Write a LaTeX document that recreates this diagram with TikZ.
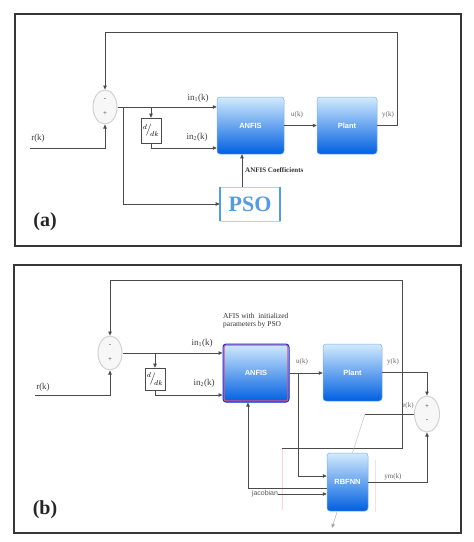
\documentclass[tikz,border=0pt]{standalone}
\usepackage{fontspec}
\setmainfont{Liberation Serif}
\setsansfont{Liberation Sans}
\usetikzlibrary{arrows.meta,shapes.geometric}
\definecolor{boxtop}{RGB}{210,235,253}
\definecolor{boxmid}{RGB}{90,172,242}
\definecolor{boxbot}{RGB}{0,95,225}
\definecolor{frm}{RGB}{55,55,55}
\definecolor{ln}{RGB}{75,75,75}
\definecolor{psoblue}{RGB}{85,155,225}
\definecolor{lbl}{RGB}{60,60,60}
\definecolor{pinkred}{RGB}{230,80,120}
\begin{document}
\begin{tikzpicture}[x=1pt,y=-1pt,
  >={Triangle[length=4pt,width=3.5pt]},
  wire/.style={draw=ln, line width=0.7pt},
  frame/.style={draw=frm, line width=1.8pt},
  blk/.style={rounded corners=3pt, top color=boxtop, middle color=boxmid, bottom color=boxbot,
    draw=boxbot!50, line width=0.5pt, text=white, font=\sffamily\bfseries\fontsize{7.5}{8}\selectfont, inner sep=0pt},
  sumnode/.style={ellipse, fill=gray!6, draw=gray!35, line width=1pt, inner sep=0pt,
    minimum width=24pt, minimum height=34pt},
  sgn/.style={font=\fontsize{7}{7}\selectfont, text=lbl, inner sep=0pt},
  lab/.style={font=\fontsize{9}{9}\selectfont, text=lbl, inner sep=0pt},
  slab/.style={font=\fontsize{7}{8}\selectfont, text=lbl!80, inner sep=0pt},
  ddbox/.style={draw=ln, line width=0.6pt, fill=white, minimum width=20pt, inner sep=0pt},
  panel/.style={font=\bfseries\fontsize{20}{22}\selectfont, text=black!85, inner sep=0pt}
]
\useasboundingbox (0,0) rectangle (474,542);
\fill[white] (0,0) rectangle (474,542);

% ---------------- panel (a) ----------------
\draw[frame] (15,14) rectangle (461,246);
\node[sumnode] (sum1) at (105,107) {};
\node[sgn] at (105,100) {-};
\node[sgn] at (105,114) {+};
\node[ddbox, minimum height=25pt] (dd1) at (151,130.5) {\fontsize{10}{10}\selectfont$^{d}\!\big/_{\!dk}$};
\node[blk, minimum width=67pt, minimum height=57pt] (anfis1) at (250.5,125.5) {ANFIS};
\node[blk, minimum width=60pt, minimum height=57pt] (plant1) at (347,125.5) {Plant};
\node[draw=psoblue!45, line width=0.6pt, fill=white, minimum width=60pt, minimum height=34pt,
  inner sep=0pt, font=\bfseries\fontsize{22}{22}\selectfont, text=psoblue] (pso) at (250,204) {PSO};
\draw[psoblue, line width=1.6pt] ([xshift=0.5pt]pso.north west) -- ([xshift=0.5pt]pso.south west);
\draw[psoblue, line width=1.6pt] ([xshift=-0.5pt]pso.north east) -- ([xshift=-0.5pt]pso.south east);

\coordinate (r1) at (30,148);
\coordinate (br1) at (123,107);
\draw[wire,->] (plant1.east) -| (397,32) -| (sum1.north);
\draw[wire,->] (r1) -| (sum1.south);
\draw[wire,->] (sum1.east) -- (anfis1.west |- sum1.east);
\draw[wire,->] (dd1.north |- sum1.east) -- (dd1.north);
\draw[wire,->] (dd1.south) |- (anfis1.west |- r1);
\draw[wire,->] (br1) |- (pso.west);
\draw[wire,->] (anfis1.east) -- (plant1.west);
\draw[wire,->] ([xshift=-8pt]pso.north) -- ([xshift=-8pt]pso.north |- anfis1.south);

\node[lab] at (38,138) {r(k)};
\node[lab] at (198,98) {in\textsubscript{1}(k)};
\node[lab] at (197,137) {in\textsubscript{2}(k)};
\node[slab] at (297,115) {u(k)};
\node[slab] at (388,115) {y(k)};
\node[font=\bfseries\fontsize{7}{8}\selectfont, text=black!80, anchor=west, inner sep=0pt] at (245,170) {ANFIS Coefficients};
\node[panel] at (45,222) {(a)};

% ---------------- panel (b) ----------------
\draw[frame] (14,265) rectangle (461,533);
\draw[pinkred!25, line width=0.4pt] (282,448) -- (282,510);
\draw[pinkred!20, line width=0.4pt] (375,460) -- (375,512);
\node[sumnode] (sum2) at (110,353) {};
\node[sgn] at (110,346) {-};
\node[sgn] at (110,360) {+};
\node[ddbox, minimum height=22pt] (dd2) at (155,379) {\fontsize{10}{10}\selectfont$^{d}\!\big/_{\!dk}$};
\node[blk, draw=blue!55!boxbot, line width=1pt, minimum width=66pt, minimum height=58pt] (anfis2) at (256,373) {ANFIS};
\draw[pinkred, line width=1pt, rounded corners=2pt] ([shift={(1.6,1.6)}]anfis2.north west) rectangle ([shift={(-1.6,-1.6)}]anfis2.south east);
\node[blk, minimum width=59pt, minimum height=57pt] (plant2) at (352.5,372.5) {Plant};
\node[blk, minimum width=41pt, minimum height=58pt] (rbf) at (347.5,482) {RBFNN};
\node[sumnode, minimum width=25pt, minimum height=36pt] (sum3) at (427,414) {};
\node[sgn] at (427,407) {+};
\node[sgn] at (427,421) {-};

\coordinate (r2) at (35,395);
\coordinate (fb2) at (282,448);
\coordinate (ub) at (298,373);
\draw[wire,->] (fb2) -| (402,280) -| (sum2.north);
\draw[wire,->] (r2) -| (sum2.south);
\draw[wire,->] (sum2.east) -- (anfis2.west |- sum2.east);
\draw[wire,->] (dd2.north |- sum2.east) -- (dd2.north);
\draw[wire,->] (dd2.south) |- (anfis2.west |- r2);
\draw[wire,->] (anfis2.east |- ub) -- (plant2.west |- ub);
\draw[wire,->] (ub) |- (rbf.west |- 0,476);
\draw[wire,->] (plant2.east) -| (sum3.north);
\draw[wire,->] (rbf.east) -| (sum3.south);
\draw[wire] (sum3.west) -- (365,414);
\draw[gray!55, line width=0.4pt] (365,414) -- ([xshift=5pt]rbf.north);
\draw[wire,->] (rbf.west |- 0,488) -| ([xshift=-8pt]anfis2.south);
\node[font=\sffamily\fontsize{7}{8}\selectfont, text=lbl!85, inner sep=0pt] (jac) at (265,494) {jacobian};
\draw[wire,->] (jac.east) -- (rbf.west |- jac.east);
\draw[gray!70, line width=0.4pt, ->] (337,512) -- (332,528);

\node[lab] at (43,387) {r(k)};
\node[lab] at (202,343) {in\textsubscript{1}(k)};
\node[lab] at (204,383) {in\textsubscript{2}(k)};
\node[slab] at (302,362) {u(k)};
\node[slab] at (393,362) {y(k)};
\node[slab] at (408,406) {e(k)};
\node[slab] at (393,477) {ym(k)};
\node[font=\fontsize{7.5}{8.5}\selectfont, text=black!80, anchor=north west, inner sep=0pt, align=left] at (223,313) {AFIS with\ \ initialized\\parameters by PSO};
\node[panel] at (45,510) {(b)};
\end{tikzpicture}
\end{document}
